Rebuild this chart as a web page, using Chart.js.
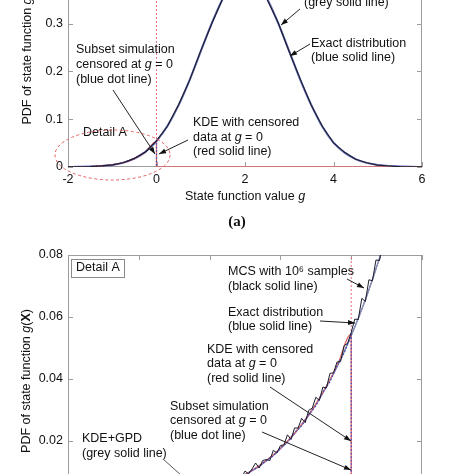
<!DOCTYPE html>
<html>
<head>
<meta charset="utf-8">
<script src="https://cdn.jsdelivr.net/npm/chart.js@4.4.1/dist/chart.umd.min.js"></script>
<style>
  html, body { margin: 0; padding: 0; background: #fff; }
  #page { position: relative; width: 474px; height: 474px; overflow: hidden; background: #fff; }
  canvas { position: absolute; left: 0; }
  #chartA { top: -68px; }
  #chartB { top: 235px; }
</style>
</head>
<body>
<div id="page">
  <canvas id="chartB" width="474" height="298"></canvas>
  <canvas id="chartA" width="474" height="303"></canvas>
</div>
<script>
// ---- panel (a): full range ----
const xTicksA = [-2, 0, 2, 4, 6];
const yTicksA = [0, 0.1, 0.2, 0.3, 0.4];
const gA = [-2, -1.75, -1.5, -1.25, -1, -0.75, -0.5, -0.25, 0, 0.25, 0.5, 0.75, 1, 1.25, 1.5, 1.75, 2,
            2.25, 2.5, 2.75, 3, 3.25, 3.5, 3.75, 4, 4.25, 4.5, 4.75, 5, 5.25, 5.5, 5.75, 6];
const exactA = [0.0001, 0.0004, 0.0009, 0.0020, 0.0044, 0.0091, 0.0175, 0.0317, 0.0540, 0.0863, 0.1295, 0.1826, 0.2420,
                0.3011, 0.3521, 0.3867, 0.3989, 0.3867, 0.3521, 0.3011, 0.2420, 0.1826, 0.1295, 0.0840, 0.0510,
                0.0300, 0.0165, 0.0086, 0.0042, 0.0019, 0.0008, 0.0003, 0.0001];
const mcsA = [0.0002, 0.0005, 0.0010, 0.0022, 0.0046, 0.0089, 0.0180, 0.0314, 0.0548, 0.0858, 0.1302, 0.1818, 0.2431,
              0.3004, 0.3530, 0.3859, 0.3995, 0.3874, 0.3512, 0.3020, 0.2411, 0.1834, 0.1288, 0.0848, 0.0503,
              0.0306, 0.0161, 0.0089, 0.0040, 0.0021, 0.0007, 0.0004, 0.0001];
const kdeGpdA = [0.0001, 0.0004, 0.0010, 0.0021, 0.0045, 0.0092, 0.0176, 0.0318, 0.0538, 0.0860, 0.1292, 0.1822, 0.2416,
                 0.3008, 0.3519, 0.3864, 0.3985, 0.3865, 0.3520, 0.3012, 0.2421, 0.1828, 0.1297, 0.0842, 0.0512,
                 0.0301, 0.0166, 0.0087, 0.0043, 0.0020, 0.0009, 0.0004, 0.0002];
const gKdeCensA = [-2, -1.75, -1.5, -1.25, -1, -0.75, -0.5, -0.25, 0, 0, 6];
const kdeCensA = [0.0001, 0.0004, 0.0009, 0.0021, 0.0045, 0.0090, 0.0176, 0.0315, 0.0538, 0, 0];
const gSubsetA = [-2, -1.75, -1.5, -1.25, -1, -0.75, -0.5, -0.25, 0, 0];
const subsetA = [0.0001, 0.0004, 0.0009, 0.0020, 0.0043, 0.0092, 0.0174, 0.0319, 0.0543, 0];

// ---- Detail A ----
const xTicksB = [-2, -1.5, -1, -0.5, 0, 0.5];
const yTicksB = [0, 0.02, 0.04, 0.06, 0.08];
const gExactB = [-2, -1.75, -1.5, -1.25, -1, -0.95, -0.9, -0.85, -0.8, -0.75, -0.7, -0.65, -0.6, -0.55, -0.5, -0.45,
                 -0.4, -0.35, -0.3, -0.25, -0.2, -0.15, -0.1, -0.05, 0, 0.05, 0.1, 0.15, 0.2, 0.25, 0.3];
const exactB = [0.0001, 0.0004, 0.0009, 0.0020, 0.0044, 0.0051, 0.0060, 0.0069, 0.0079, 0.0091, 0.0104, 0.0119, 0.0136,
                0.0154, 0.0175, 0.0198, 0.0224, 0.0252, 0.0283, 0.0317, 0.0355, 0.0396, 0.0440, 0.0488, 0.0540,
                0.0596, 0.0656, 0.0721, 0.0790, 0.0863, 0.0940];
const gMcsB = [-2, -1.75, -1.5, -1.25, -1, -0.9, -0.8, -0.775, -0.75, -0.725, -0.7, -0.675, -0.65, -0.625, -0.6, -0.575,
               -0.55, -0.525, -0.5, -0.475, -0.45, -0.425, -0.4, -0.375, -0.35, -0.325, -0.3, -0.275, -0.25, -0.225,
               -0.2, -0.175, -0.15, -0.125, -0.1, -0.075, -0.05, -0.025, 0, 0.025, 0.05, 0.075, 0.1, 0.125, 0.15,
               0.175, 0.2, 0.225];
const mcsB = [0.0001, 0.0004, 0.0010, 0.0019, 0.0046, 0.0058, 0.0087, 0.0080, 0.0103, 0.0094, 0.0110, 0.0129, 0.0113,
              0.0137, 0.0140, 0.0137, 0.0170, 0.0161, 0.0185, 0.0188, 0.0220, 0.0205, 0.0242, 0.0242, 0.0273, 0.0259,
              0.0299, 0.0306, 0.0341, 0.0331, 0.0374, 0.0371, 0.0418, 0.0420, 0.0455, 0.0456, 0.0508, 0.0515, 0.0550,
              0.0593, 0.0592, 0.0660, 0.0650, 0.0720, 0.0717, 0.0784, 0.0782, 0.0850];
const gKdeGpdB = [-2, -1.75, -1.5, -1.25, -1, -0.9, -0.8, -0.7, -0.6, -0.5, -0.4, -0.3, -0.2, -0.1, 0, 0.1, 0.2, 0.3];
const kdeGpdB = [0.0001, 0.0004, 0.0009, 0.0021, 0.0046, 0.0061, 0.0081, 0.0106, 0.0138, 0.0177, 0.0226, 0.0285,
                 0.0356, 0.0441, 0.0540, 0.0655, 0.0789, 0.0940];
const gKdeCensB = [-2, -1.75, -1.5, -1.25, -1, -0.9, -0.8, -0.7, -0.6, -0.5, -0.4, -0.3, -0.2, -0.1, 0, 0];
const kdeCensB = [0.0001, 0.0004, 0.0009, 0.0020, 0.0045, 0.0060, 0.0080, 0.0105, 0.0137, 0.0176, 0.0225, 0.0284,
                  0.0357, 0.0443, 0.0545, 0];
const gSubsetB = [-2, -1.75, -1.5, -1.25, -1, -0.95, -0.9, -0.85, -0.8, -0.75, -0.7, -0.65, -0.6, -0.55, -0.5, -0.45,
                  -0.4, -0.35, -0.3, -0.25, -0.2, -0.15, -0.1, -0.05, 0, 0];
const subsetB = [0.0001, 0.0004, 0.0009, 0.0020, 0.0046, 0.0050, 0.0061, 0.0067, 0.0081, 0.0089, 0.0106, 0.0117, 0.0138,
                 0.0152, 0.0178, 0.0195, 0.0227, 0.0249, 0.0286, 0.0313, 0.0358, 0.0391, 0.0444, 0.0483, 0.0543, 0];

const CENSOR_G = 0;

const FAMILY = '"Liberation Sans", Arial, sans-serif';
const FONT = '12.5px ' + FAMILY;
const FONT_I = 'italic 12.5px ' + FAMILY;
const FONT_B = 'bold 12.5px ' + FAMILY;
const TXT = '#111';
const AXIS = '#9c9c9c';

const pts = (xs, ys) => xs.map((x, i) => ({ x: x, y: ys[i] }));

function line(label, data, color, width, extra) {
    return Object.assign({
        label: label,
        data: data,
        borderColor: color,
        borderWidth: width,
        pointRadius: 0,
        fill: false,
        tension: 0
    }, extra || {});
}

// rich text: parts = [[text, font], ...]
function rich(ctx, parts, x, y, center) {
    let w = 0;
    parts.forEach(p => { ctx.font = p[1] || FONT; w += ctx.measureText(p[0]).width; });
    let cx = center ? x - w / 2 : x;
    parts.forEach(p => {
        ctx.font = p[1] || FONT;
        ctx.fillText(p[0], cx, y);
        cx += ctx.measureText(p[0]).width;
    });
}

function arrow(ctx, x1, y1, x2, y2, head) {
    ctx.beginPath();
    ctx.moveTo(x1, y1);
    ctx.lineTo(x2, y2);
    ctx.stroke();
    if (!head) return;
    const a = Math.atan2(y2 - y1, x2 - x1);
    ctx.beginPath();
    ctx.moveTo(x2, y2);
    ctx.lineTo(x2 - 7 * Math.cos(a) + 2.5 * Math.sin(a), y2 - 7 * Math.sin(a) - 2.5 * Math.cos(a));
    ctx.lineTo(x2 - 7 * Math.cos(a) - 2.5 * Math.sin(a), y2 - 7 * Math.sin(a) + 2.5 * Math.cos(a));
    ctx.closePath();
    ctx.fill();
}

// MATLAB-like box with inward ticks
const boxPlugin = {
    id: 'box',
    beforeDatasetsDraw(chart) {
        const { ctx, chartArea: a, scales: { x, y } } = chart;
        ctx.save();
        ctx.strokeStyle = AXIS;
        ctx.lineWidth = 1;
        ctx.strokeRect(a.left + 0.5, a.top + 0.5, a.width - 1, a.height - 1);
        ctx.beginPath();
        x.ticks.forEach(t => {
            const px = Math.round(x.getPixelForValue(t.value)) + 0.5;
            ctx.moveTo(px, a.bottom); ctx.lineTo(px, a.bottom - 5);
            ctx.moveTo(px, a.top); ctx.lineTo(px, a.top + 5);
        });
        y.ticks.forEach(t => {
            const py = Math.round(y.getPixelForValue(t.value)) + 0.5;
            ctx.moveTo(a.left, py); ctx.lineTo(a.left + 5, py);
            ctx.moveTo(a.right, py); ctx.lineTo(a.right - 5, py);
        });
        ctx.stroke();
        ctx.restore();
    }
};

function makeOptions(xMin, xMax, xTicks, yMax, yTicks, xAxisHeight) {
    const tickFont = { family: FAMILY, size: 12.5 };
    return {
        responsive: false,
        animation: false,
        layout: { padding: { top: 20, right: 52, bottom: 0, left: 0 } },
        plugins: { legend: { display: false }, tooltip: { enabled: false } },
        scales: {
            x: {
                type: 'linear', min: xMin, max: xMax,
                afterBuildTicks: s => { s.ticks = xTicks.map(v => ({ value: v })); },
                afterFit: s => { s.height = xAxisHeight; },
                ticks: { font: tickFont, color: TXT, padding: 5, maxRotation: 0, callback: v => String(v) },
                grid: { display: false, drawTicks: false },
                border: { display: false }
            },
            y: {
                type: 'linear', min: 0, max: yMax,
                afterBuildTicks: s => { s.ticks = yTicks.map(v => ({ value: v })); },
                afterFit: s => { s.width = 68; },
                ticks: { font: tickFont, color: TXT, padding: 5, callback: v => String(v) },
                grid: { display: false, drawTicks: false },
                border: { display: false }
            }
        }
    };
}

// ---- chart (a) ----
new Chart(document.getElementById('chartA'), {
    type: 'line',
    data: {
        datasets: [
            line('MCS with 10^6 samples', pts(gA, mcsA), '#1c1c2c', 1.2),
            line('Subset simulation censored at g = 0', pts(gSubsetA, subsetA), '#3344bb', 1.2, { borderDash: [1.5, 2] }),
            line('KDE with censored data at g = 0', pts(gKdeCensA, kdeCensA), '#e06a6a', 1.3, { cubicInterpolationMode: 'monotone' }),
            line('KDE+GPD', pts(gA, kdeGpdA), '#9a9a9a', 1, { cubicInterpolationMode: 'monotone' }),
            line('Exact distribution', pts(gA, exactA), '#5565d0', 2, { cubicInterpolationMode: 'monotone' }),
            line('g = 0', pts([CENSOR_G, CENSOR_G], [0, 0.45]), '#e07080', 1, { borderDash: [2, 2] })
        ]
    },
    options: makeOptions(-2, 6, xTicksA, 0.45, yTicksA, 68),
    plugins: [boxPlugin, {
        id: 'notesA',
        afterDraw(chart) {
            const ctx = chart.ctx;
            ctx.save();
            ctx.translate(0, 68);  // page coordinates
            ctx.fillStyle = TXT;
            ctx.strokeStyle = '#222';
            ctx.lineWidth = 1;
            ctx.textBaseline = 'middle';
            ctx.textAlign = 'left';

            rich(ctx, [['KDE+GPD']], 304, -12);
            rich(ctx, [['(grey solid line)']], 304, 3);
            rich(ctx, [['Exact distribution']], 311, 44);
            rich(ctx, [['(blue solid line)']], 311, 58);
            rich(ctx, [['Subset simulation']], 76, 50);
            rich(ctx, [['censored at '], ['g', FONT_I], [' = 0']], 76, 65);
            rich(ctx, [['(blue dot line)']], 76, 80);
            rich(ctx, [['KDE with censored']], 193, 123);
            rich(ctx, [['data at '], ['g', FONT_I], [' = 0']], 193, 138);
            rich(ctx, [['(red solid line)']], 193, 152);
            rich(ctx, [['Detail A']], 83, 133);

            arrow(ctx, 300, 9, 281, 25, true);
            arrow(ctx, 310, 44, 290, 56, true);
            arrow(ctx, 113, 90, 155, 154, true);
            arrow(ctx, 188, 140, 159, 154, true);

            // Detail A ellipse
            ctx.save();
            ctx.strokeStyle = '#e06060';
            ctx.setLineDash([3, 2.5]);
            ctx.beginPath();
            ctx.ellipse(112.5, 155, 57.5, 25, 0, 0, Math.PI * 2);
            ctx.stroke();
            ctx.restore();

            // axis titles
            rich(ctx, [['State function value '], ['g', FONT_I]], 245, 197, true);
            ctx.save();
            ctx.translate(28, 61);
            ctx.rotate(-Math.PI / 2);
            rich(ctx, [['PDF of state function '], ['g', FONT_I]], 0, 0, true);
            ctx.restore();

            ctx.font = 'bold 15px "Liberation Serif", "Times New Roman", serif';
            ctx.textAlign = 'center';
            ctx.fillText('(a)', 237, 222);
            ctx.restore();
        }
    }]
});

// ---- chart Detail A ----
new Chart(document.getElementById('chartB'), {
    type: 'line',
    data: {
        datasets: [
            line('MCS with 10^6 samples', pts(gMcsB, mcsB), '#1c1c2c', 1),
            line('Subset simulation censored at g = 0', pts(gSubsetB, subsetB), '#3344bb', 1.2, { borderDash: [1.5, 2] }),
            line('KDE with censored data at g = 0', pts(gKdeCensB, kdeCensB), '#e06a6a', 1.2, { cubicInterpolationMode: 'monotone' }),
            line('KDE+GPD', pts(gKdeGpdB, kdeGpdB), '#9a9a9a', 1, { cubicInterpolationMode: 'monotone' }),
            line('Exact distribution', pts(gExactB, exactB), '#5565d0', 1.4, { cubicInterpolationMode: 'monotone' }),
            line('g = 0', pts([CENSOR_G, CENSOR_G], [0, 0.08]), '#e07080', 1, { borderDash: [2, 2] })
        ]
    },
    options: makeOptions(-2, 0.5, xTicksB, 0.08, yTicksB, 30),
    plugins: [boxPlugin, {
        id: 'notesB',
        afterDraw(chart) {
            const ctx = chart.ctx;
            ctx.save();
            ctx.translate(0, -235);  // page coordinates
            ctx.fillStyle = TXT;
            ctx.strokeStyle = '#222';
            ctx.lineWidth = 1;
            ctx.textBaseline = 'middle';
            ctx.textAlign = 'left';

            // Detail A box
            ctx.save();
            ctx.fillStyle = '#fff';
            ctx.strokeStyle = '#8a8a8a';
            ctx.fillRect(71.5, 259.5, 53, 18);
            ctx.strokeRect(71.5, 259.5, 53, 18);
            ctx.restore();
            rich(ctx, [['Detail A']], 76, 268);

            rich(ctx, [['MCS with 10'], ['\u2076'], [' samples']], 228, 272);
            rich(ctx, [['(black solid line)']], 228, 287);
            rich(ctx, [['Exact distribution']], 228, 313);
            rich(ctx, [['(blue solid line)']], 228, 327);
            rich(ctx, [['KDE with censored']], 207, 350);
            rich(ctx, [['data at '], ['g', FONT_I], [' = 0']], 207, 364);
            rich(ctx, [['(red solid line)']], 207, 379);
            rich(ctx, [['Subset simulation']], 170, 407);
            rich(ctx, [['censored at '], ['g', FONT_I], [' = 0']], 170, 421);
            rich(ctx, [['(blue dot line)']], 170, 436);
            rich(ctx, [['KDE+GPD']], 82, 439);
            rich(ctx, [['(grey solid line)']], 82, 454);

            arrow(ctx, 347, 279, 364, 288, true);
            arrow(ctx, 320, 321, 355, 323, true);
            arrow(ctx, 270, 387, 351, 441, true);
            arrow(ctx, 262, 432, 351, 470, true);
            ctx.save();
            ctx.strokeStyle = '#555';
            arrow(ctx, 163, 459, 200, 492, false);
            ctx.restore();

            ctx.save();
            ctx.translate(27, 381);
            ctx.rotate(-Math.PI / 2);
            rich(ctx, [['PDF of state function '], ['g', FONT_I], ['('], ['X', FONT_B], [')']], 0, 0, true);
            ctx.restore();
            ctx.restore();
        }
    }]
});
</script>
</body>
</html>
